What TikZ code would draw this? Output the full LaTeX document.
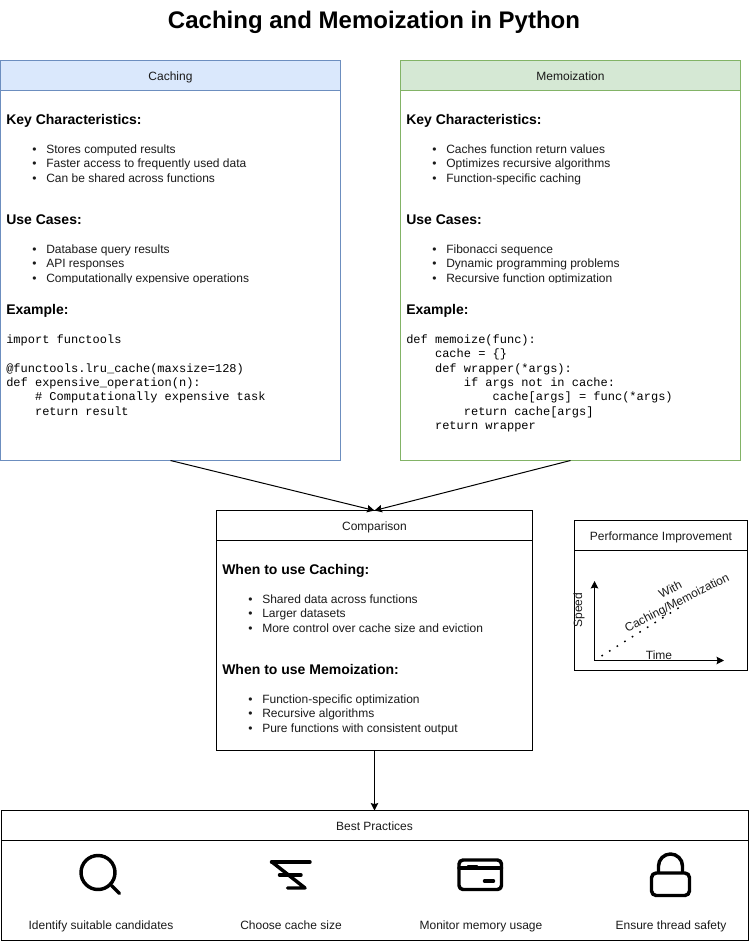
\documentclass[tikz,border=0pt]{standalone}
\usepackage{fontspec}
\setmainfont{Liberation Sans}
\setmonofont{Liberation Mono}
\usetikzlibrary{arrows.meta}
\definecolor{cachefill}{HTML}{DAE8FC}
\definecolor{cacheline}{HTML}{6C8EBF}
\definecolor{memofill}{HTML}{D5E8D4}
\definecolor{memoline}{HTML}{82B366}
\definecolor{inktext}{HTML}{1A1A1A}
\tikzset{
  box/.style={draw=black,line width=0.75pt,rectangle,inner sep=0pt,outer sep=0pt,anchor=north west,text=inktext,font=\fontsize{9}{10.8}\selectfont},
  head/.style={box,minimum height=22.5pt,text height=7.5pt,text depth=0.5pt},
  wsmall/.style={minimum width=129.75pt},
  wmid/.style={minimum width=237pt},
  wpanel/.style={minimum width=255pt},
  wfull/.style={minimum width=560.25pt},
  txt/.style={inner sep=0pt,anchor=base west,text=inktext,font=\fontsize{9}{10.8}\selectfont},
  hd/.style={txt,text=black,font=\fontsize{10.5}{12.6}\selectfont\bfseries},
  code/.style={txt,text=black,font=\fontsize{9}{10.8}\selectfont\ttfamily},
  lbl/.style={txt,anchor=base},
  link/.style={draw=black,line width=0.75pt,-{Stealth[length=5.6pt,width=5.6pt,inset=0.8pt]}},
  icon/.style={draw=black,line width=2.6pt,line cap=round,line join=round},
}
\newcommand{\bul}[4]{\node[txt] (#1) at (#2,#3) {\makebox[10.5pt][l]{•}#4};}
\begin{document}
\begin{tikzpicture}[x=0.75pt,y=-0.75pt]
\useasboundingbox (0,0) rectangle (751,941);
\node[inner sep=0pt,anchor=base,font=\fontsize{18}{21.6}\selectfont\bfseries] (title) at (374,28.6) {Caching and Memoization in Python};

% Caching panel
\node[box,wpanel,minimum height=300pt,draw=cacheline] (caching) at (0.5,60.5) {};
\node[head,wpanel,draw=cacheline,fill=cachefill] (cachinghead) at (0.5,60.5) {Caching};
\node[hd] (c1) at (6,124.8) {Key Characteristics:};
\bul{c2}{32}{153.7}{Stores computed results}
\bul{c3}{32}{168}{Faster access to frequently used data}
\bul{c4}{32}{182.7}{Can be shared across functions}
\node[hd] (c5) at (6,224) {Use Cases:};
\begin{scope}
\clip (0,230) rectangle (341,282.6);
\bul{c6}{32}{253}{Database query results}
\bul{c7}{32}{267.5}{API responses}
\bul{c8}{32}{282}{Computationally expensive operations}
\end{scope}
\node[hd] (c9) at (6,314) {Example:};
\node[code] (c10) at (6,343) {import functools};
\node[code] (c11) at (6,372) {@functools.lru\_cache(maxsize=128)};
\node[code] (c12) at (6,386) {def expensive\_operation(n):};
\node[code] (c13) at (6,400.5) {\ \ \ \ \# Computationally expensive task};
\node[code] (c14) at (6,415) {\ \ \ \ return result};

% Memoization panel
\node[box,wpanel,minimum height=300pt,draw=memoline] (memo) at (400.5,60.5) {};
\node[head,wpanel,draw=memoline,fill=memofill] (memohead) at (400.5,60.5) {Memoization};
\node[hd] (m1) at (406,124.8) {Key Characteristics:};
\bul{m2}{432}{153.7}{Caches function return values}
\bul{m3}{432}{168}{Optimizes recursive algorithms}
\bul{m4}{432}{182.7}{Function-specific caching}
\node[hd] (m5) at (406,224) {Use Cases:};
\begin{scope}
\clip (400,230) rectangle (741,282.6);
\bul{m6}{432}{253}{Fibonacci sequence}
\bul{m7}{432}{267.5}{Dynamic programming problems}
\bul{m8}{432}{282}{Recursive function optimization}
\end{scope}
\node[hd] (m9) at (406,314) {Example:};
\node[code] (m10) at (406,343) {def memoize(func):};
\node[code] (m11) at (406,357) {\ \ \ \ cache = \{\}};
\node[code] (m12) at (406,372) {\ \ \ \ def wrapper(*args):};
\node[code] (m13) at (406,386) {\ \ \ \ \ \ \ \ if args not in cache:};
\node[code] (m14) at (406,400.5) {\ \ \ \ \ \ \ \ \ \ \ \ cache[args] = func(*args)};
\node[code] (m15) at (406,415) {\ \ \ \ \ \ \ \ return cache[args]};
\node[code] (m16) at (406,429) {\ \ \ \ return wrapper};

% Comparison panel
\node[box,wmid,minimum height=180pt] (comparison) at (216.5,510.5) {};
\node[head,wmid] (comparisonhead) at (216.5,510.5) {Comparison};
\node[hd] (k1) at (222,574) {When to use Caching:};
\bul{k2}{248}{603}{Shared data across functions}
\bul{k3}{248}{617.5}{Larger datasets}
\bul{k4}{248}{632}{More control over cache size and eviction}
\node[hd] (k5) at (222,674) {When to use Memoization:};
\bul{k6}{248}{703}{Function-specific optimization}
\bul{k7}{248}{717.5}{Recursive algorithms}
\bul{k8}{248}{732}{Pure functions with consistent output}

% Performance panel
\node[box,wsmall,minimum height=112.5pt] (perf) at (574.5,520.5) {};
\node[head,wsmall] (perfhead) at (574.5,520.5) {Performance Improvement};
\coordinate (origin) at (594.5,660.5);
\coordinate (ytip) at (594.5,581);
\coordinate (xtip) at (724,660.5);
\coordinate (dotstart) at (601.5,656);
\coordinate (dotend) at (684,604.5);
\draw[link] (origin) -- (ytip);
\draw[link] (origin) -- (xtip);
\draw[black,line width=1.1pt,dash pattern=on 1.2pt off 5.5pt] (dotstart) -- (dotend);
\node[lbl] (timelbl) at (659,659) {Time};
\node[txt,anchor=center,rotate=90] (speedlbl) at (579,610) {Speed};
\node[txt,anchor=center,rotate=27,align=center] (withlbl) at (674,597) {With\\Caching/Memoization};

% Best practices panel
\node[box,wfull,minimum height=97.5pt] (best) at (1,810.5) {};
\node[head,wfull] (besthead) at (1,810.5) {Best Practices};
% magnifier
\draw[icon] (98,872.5) circle (17);
\draw[icon] (111.5,885.5) -- (119.5,893.5);
% filter
\draw[icon] (271.5,862) -- (310,862);
\draw[icon] (279.5,875) -- (301,875);
\draw[icon] (287.5,888) -- (305,888) -- (272,862);
% card
\draw[icon,rounded corners=3pt] (459,860) rectangle (501.5,889.5);
\draw[icon] (459,868) -- (501.5,868);
\draw[icon] (468,866.5) -- (477,866.5);
\draw[icon] (484.5,881) -- (493.5,881);
% lock
\draw[icon,rounded corners=3.5pt] (651.5,873) rectangle (689.5,895.5);
\draw[icon] (658.5,872) -- (658.5,866) arc[start angle=180,end angle=0,x radius=12,y radius=-12] -- (682.5,872);
\node[lbl] (b1) at (101,929) {Identify suitable candidates};
\node[lbl] (b2) at (291,929) {Choose cache size};
\node[lbl] (b3) at (481,929) {Monitor memory usage};
\node[lbl] (b4) at (671,929) {Ensure thread safety};

% Connectors
\draw[link] (caching.south) -- (comparison.north);
\draw[link] (memo.south) -- (comparison.north);
\draw[link] (comparison.south) -- (best.north -| comparison.south);
\end{tikzpicture}
\end{document}
